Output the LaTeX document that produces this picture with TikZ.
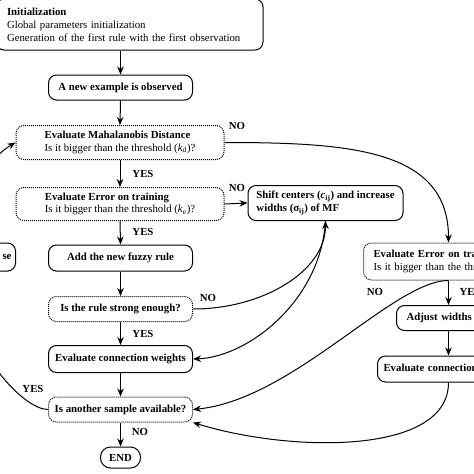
\documentclass[tikz,border=0pt]{standalone}
\usepackage{fontspec}
\setmainfont{Liberation Serif}
\usetikzlibrary{arrows.meta}
\begin{document}
\begin{tikzpicture}[x=1pt,y=-1pt,
  base/.style={draw, line width=1pt, rounded corners=8pt, inner sep=0pt, align=center, font=\fontsize{10.8}{12.5}\selectfont},
  bbox/.style={base, font=\fontsize{10.8}{12.5}\selectfont\bfseries},
  dotb/.style={densely dotted},
  arr/.style={-{Stealth[length=8pt,width=6.5pt]}, line width=1pt},
  lbl/.style={font=\fontsize{10.8}{12.5}\selectfont\bfseries, inner sep=0pt}]
\useasboundingbox (0,0) rectangle (474,474);
\begin{scope}
\clip (0,0) rectangle (474,474);
% left column
\node[base, font=\fontsize{10.8}{13}\selectfont, align=left, minimum width=267pt, minimum height=51pt, text width=245pt, inner xsep=11pt] (init) at (129.5,24.5)
  {\textbf{Initialization}\\Global parameters initialization\\Generation of the first rule with the first observation};
\node[bbox, minimum width=144pt, minimum height=25pt] (newex) at (120.5,87.5) {A new example is observed};
\node[base, dotb, align=left, minimum width=208pt, minimum height=34pt] (maha) at (120,142.5)
  {\textbf{Evaluate Mahalanobis Distance}\\Is it bigger than the threshold (\textit{k}\textsubscript{d})?};
\node[base, dotb, align=left, minimum width=208pt, minimum height=33pt] (err) at (120,204)
  {\textbf{Evaluate Error on training}\\Is it bigger than the threshold (\textit{k}\textsubscript{e})?};
\node[bbox, align=left, minimum width=155pt, minimum height=35pt] (shift) at (325.5,203)
  {Shift centers (\textit{c}\textsubscript{ij}) and increase\\widths (σ\textsubscript{ij}) of MF};
\node[bbox, anchor=east, minimum width=60pt, minimum height=28pt, text width=52pt, align=right] (se) at (16,257) {se};
\node[bbox, minimum width=144pt, minimum height=26pt] (add) at (120.5,258) {Add the new fuzzy rule};
\node[bbox, dotb, minimum width=144pt, minimum height=25pt] (strong) at (120.5,309) {Is the rule strong enough?};
\node[bbox, minimum width=144pt, minimum height=27pt] (cw) at (120.5,359) {Evaluate connection weights};
\node[bbox, dotb, minimum width=144pt, minimum height=25pt] (another) at (120.5,409.5) {Is another sample available?};
\node[bbox, rounded corners=10pt, minimum width=40pt, minimum height=21pt] (endn) at (120.5,457.5) {END};
% right column
\node[base, dotb, anchor=west, align=left, minimum width=180pt, minimum height=37pt, text width=160pt] (rerr) at (363,261.5)
  {\textbf{Evaluate Error on training}\\Is it bigger than the threshold (\textit{k}\textsubscript{e})?};
\node[bbox, anchor=west, align=left, minimum width=104pt, minimum height=25pt, text width=84pt] (adj) at (396,318) {Adjust widths};
\node[bbox, anchor=west, align=left, minimum width=150pt, minimum height=26pt, text width=138pt] (rcw) at (377,369) {Evaluate connection weights};
\coordinate (lp) at (-30,300);
% straight connectors
\draw[arr] (newex.north |- init.south) -- (newex.north);
\draw[arr] (newex.south) -- (maha.north);
\draw[arr] (maha.south) -- (err.north);
\draw[arr] (err.south) -- (add.north);
\draw[arr] (add.south) -- (strong.north);
\draw[arr] (strong.south) -- (cw.north);
\draw[arr] (cw.south) -- (another.north);
\draw[arr] (another.south) -- (endn.north);
\draw[arr] (err.east) -- (shift.west);
\draw[arr] (adj.north |- rerr.south) -- (adj.north);
\draw[arr] (adj.south) -- (adj.south |- rcw.north);
% curved connectors
\draw[arr] (maha.east) .. controls +(126,0) and +(0,-93) .. (adj.north |- rerr.north);
\draw[arr] (strong.east) .. controls +(70,0) and +(0,50) .. (shift.south);
\draw[arr] (shift.south) .. controls +(-5,80) and +(55,-2) .. (cw.east);
\draw[arr] (adj.north |- rerr.south) .. controls +(-55,0) and +(100,-10) .. (another.east);
\draw[arr] (adj.south |- rcw.south) .. controls +(0,73) and +(97,30) .. (another.south east);
\draw[arr] (another.west) .. controls +(-25,0) and +(0,50) .. (lp) .. controls +(0,-120) and +(-25,15) .. (maha.west);
% labels
\node[lbl] (l1) at (237,126) {NO};
\node[lbl] (l2) at (143,174) {YES};
\node[lbl] (l3) at (237,188) {NO};
\node[lbl] (l4) at (143,232) {YES};
\node[lbl] (l5) at (208,298) {NO};
\node[lbl] (l6) at (143,334) {YES};
\node[lbl] (l7) at (33,389) {YES};
\node[lbl] (l8) at (140,432) {NO};
\node[lbl] (l9) at (375,292) {NO};
\node[lbl] (l10) at (470,292) {YES};
\end{scope}
\end{tikzpicture}
\end{document}
